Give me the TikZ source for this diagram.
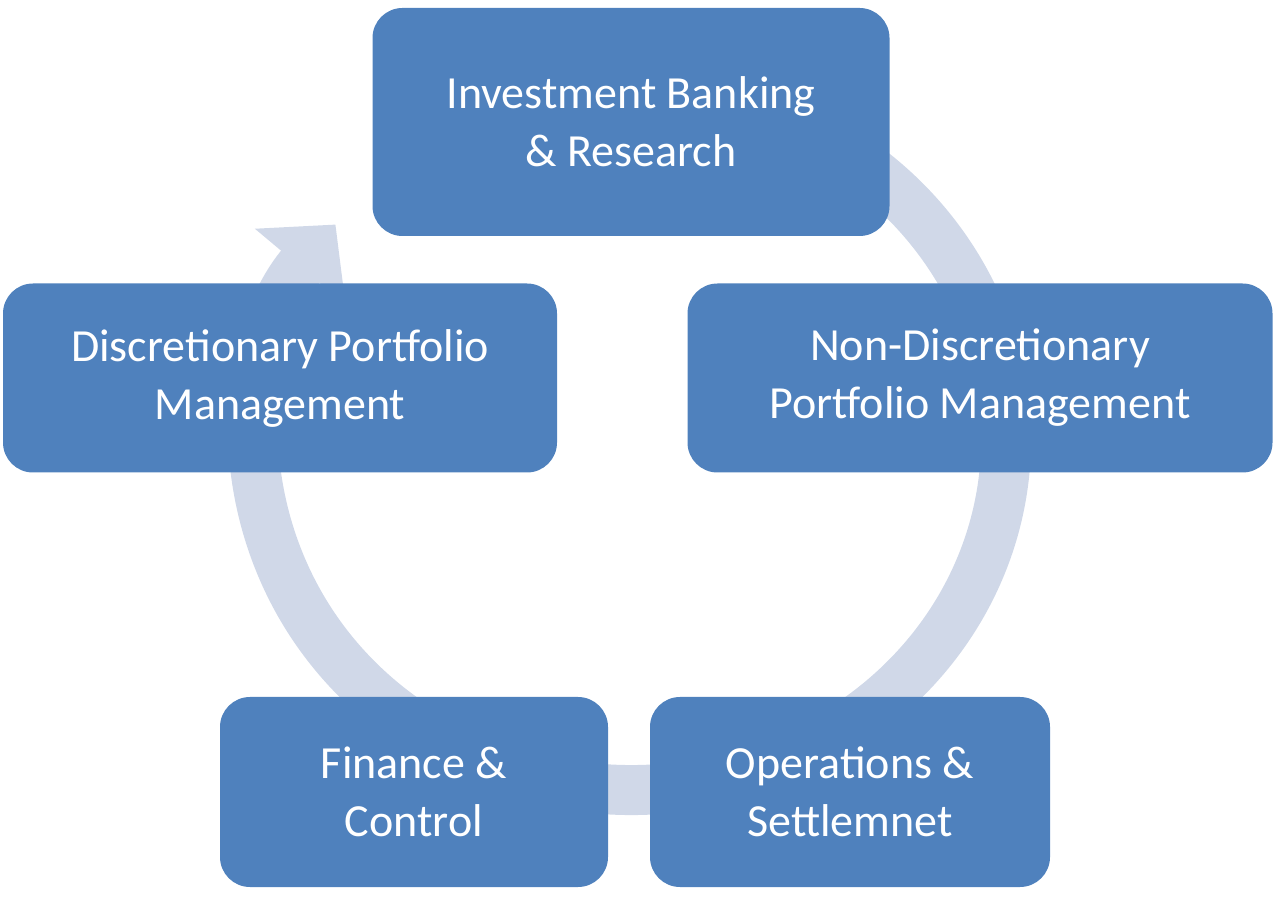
\documentclass[tikz,border=0pt]{standalone}
\usepackage{fontspec}
\setmainfont{Carlito}
\usetikzlibrary{arrows.meta}
\definecolor{boxc}{HTML}{4F81BD}
\definecolor{ringc}{HTML}{D0D8E8}
\begin{document}
\begin{tikzpicture}[x=1pt,y=1pt,
  box/.style={draw=none,fill=boxc,rounded corners=30pt,text=white,align=center,
    font=\fontsize{46}{58}\selectfont,inner sep=0pt}]
\useasboundingbox (0,0) rectangle (1273,907);
\draw[ringc,line width=50pt,-{Triangle[width=115pt,length=55pt]}]
  (631,467) ++(120:375 and 350) arc[start angle=120,end angle=-218,x radius=375,y radius=350];
\node[box,minimum width=517pt,minimum height=228pt] (ib) at (631,785) {Investment Banking\\\& Research};
\node[box,minimum width=585pt,minimum height=189pt] (nd) at (980,529) {Non-Discretionary\\Portfolio Management};
\node[box,minimum width=400pt,minimum height=190pt] (os) at (850,115) {Operations \&\\Settlemnet};
\node[box,minimum width=388pt,minimum height=190pt] (fc) at (414,115) {Finance \&\\Control};
\node[box,minimum width=554pt,minimum height=189pt] (dp) at (280,529) {Discretionary Portfolio\\Management};
\end{tikzpicture}
\end{document}
